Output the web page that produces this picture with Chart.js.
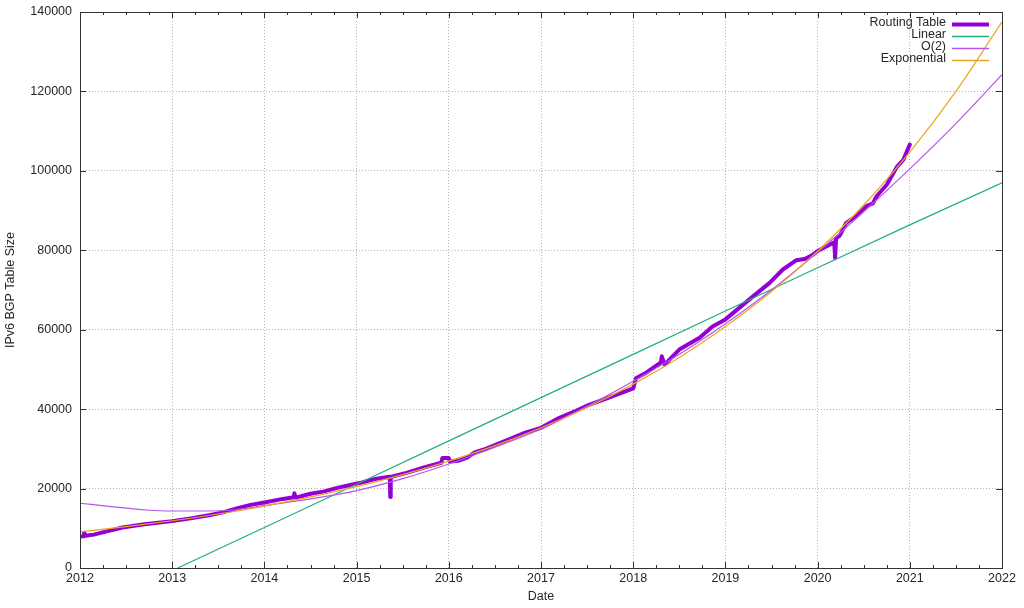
<!DOCTYPE html>
<html>
<head>
<meta charset="utf-8">
<title>IPv6 BGP Table Size</title>
<script src="https://cdn.jsdelivr.net/npm/chart.js@4.4.1/dist/chart.umd.min.js"></script>
<style>
  html, body { margin: 0; padding: 0; background: #fff; }
  #wrap { width: 1024px; height: 608px; }
</style>
</head>
<body>
<div id="wrap"><canvas id="bgpChart" width="1024" height="608"></canvas></div>
<script>
// Routing table size (decimal year, prefixes)
const routingDates = [
  2012.00, 2012.04, 2012.045, 2012.06, 2012.15, 2012.30, 2012.46, 2012.70,
  2013.00, 2013.20, 2013.40, 2013.55, 2013.70, 2013.85,
  2014.00, 2014.20, 2014.32, 2014.325, 2014.34, 2014.50, 2014.65, 2014.78, 2014.93,
  2015.05, 2015.20, 2015.36, 2015.365, 2015.37, 2015.55, 2015.73, 2015.92, 2015.93,
  2016.00, 2016.01, 2016.10, 2016.20, 2016.28, 2016.40, 2016.62, 2016.83,
  2017.00, 2017.20, 2017.38, 2017.52, 2017.70, 2017.93,
  2018.00, 2018.03, 2018.15, 2018.30, 2018.31, 2018.34, 2018.50, 2018.72, 2018.86,
  2019.00, 2019.15, 2019.30, 2019.48, 2019.62, 2019.77, 2019.86, 2019.95,
  2020.00, 2020.13, 2020.18, 2020.19, 2020.20, 2020.24, 2020.31, 2020.42,
  2020.53, 2020.60, 2020.64, 2020.75, 2020.86, 2020.93, 2021.00
];
const routingSizes = [
  7900, 8000, 8900, 8100, 8400, 9300, 10200, 11000,
  11800, 12500, 13300, 14000, 15000, 15900,
  16500, 17400, 17800, 18800, 17700, 18700, 19300, 20100, 20900,
  21500, 22400, 23000, 17900, 22900, 24000, 25300, 26500, 27700,
  27700, 26800, 27000, 27800, 29100, 30000, 32100, 34100,
  35300, 37800, 39600, 41100, 42600, 44600,
  45200, 47800, 49300, 51800, 53300, 51200, 55000, 58000, 60800,
  62600, 65500, 68400, 71800, 75100, 77500, 77800, 78900,
  79800, 81400, 82000, 78000, 83000, 83700, 86900, 88600,
  91100, 91800, 93600, 96500, 101000, 102800, 106600
];

// Linear fit
const linearDates = [2013.06, 2014, 2015, 2016, 2017, 2018, 2019, 2020, 2021, 2022];
const linearSizes = [0, 10200, 21100, 32000, 42900, 53800, 64700, 75600, 86400, 97000];

// O(2) fit
const quadDates = [
  2012.0, 2012.36, 2012.72, 2013.0, 2013.4, 2013.67, 2014.0, 2014.5, 2015.0, 2015.5,
  2016.0, 2016.5, 2017.0, 2017.5, 2018.0, 2018.5, 2019.0, 2019.5, 2020.0, 2020.5,
  2021.0, 2021.5, 2022.0
];
const quadSizes = [
  16300, 15400, 14600, 14350, 14350, 14600, 15700, 17400, 19500, 22500,
  26200, 30400, 35000, 40700, 47000, 53800, 61500, 70000, 79500, 89700,
  100500, 111900, 124200
];

// Exponential fit
const expDates = [
  2012.0, 2012.5, 2013.0, 2013.5, 2014.0, 2014.5, 2015.0, 2015.5, 2016.0, 2016.5,
  2017.0, 2017.5, 2018.0, 2018.5, 2019.0, 2019.5, 2020.0, 2020.5, 2021.0, 2021.5, 2022.0
];
const expSizes = [
  9100, 10400, 11900, 13600, 15600, 17900, 20500, 23500, 26900, 30800,
  35300, 40400, 46300, 53000, 60800, 69600, 79800, 91400, 104700, 120000, 137500
];

const xTicks = [2012, 2013, 2014, 2015, 2016, 2017, 2018, 2019, 2020, 2021, 2022];
const yTicks = [0, 20000, 40000, 60000, 80000, 100000, 120000, 140000];

const FONT = 'Liberation Sans, Arial, Helvetica, sans-serif';
const TEXT = '#262626';
const COLORS = ['#9400d3', '#1fae84', '#b455ee', '#eba520'];
const WIDTHS = [4, 1.2, 1.2, 1.2];

function toPoints(xs, ys) {
  return xs.map((x, i) => ({ x: x, y: ys[i] }));
}

// gnuplot style frame: box, inward ticks on all sides, quarter year minor ticks
const framePlugin = {
  id: 'frame',
  afterDatasetsDraw(chart) {
    const { ctx, chartArea: a, scales: { x, y } } = chart;
    ctx.save();
    ctx.strokeStyle = '#333';
    ctx.lineWidth = 1;
    ctx.beginPath();
    xTicks.forEach((v, i) => {
      const px = Math.round(x.getPixelForValue(v)) + 0.5;
      ctx.moveTo(px, a.bottom); ctx.lineTo(px, a.bottom - 6);
      ctx.moveTo(px, a.top); ctx.lineTo(px, a.top + 6);
      if (i < xTicks.length - 1) {
        for (let q = 1; q < 4; q++) {
          const mx = Math.round(x.getPixelForValue(v + q / 4)) + 0.5;
          ctx.moveTo(mx, a.bottom); ctx.lineTo(mx, a.bottom - 3);
          ctx.moveTo(mx, a.top); ctx.lineTo(mx, a.top + 3);
        }
      }
    });
    yTicks.forEach(v => {
      const py = Math.round(y.getPixelForValue(v)) + 0.5;
      ctx.moveTo(a.left, py); ctx.lineTo(a.left + 6, py);
      ctx.moveTo(a.right, py); ctx.lineTo(a.right - 6, py);
    });
    ctx.stroke();
    ctx.strokeRect(Math.round(a.left) + 0.5, Math.round(a.top) + 0.5,
      Math.round(a.right - a.left), Math.round(a.bottom - a.top));
    ctx.restore();
  },
  afterDraw(chart) {
    // key in the top right corner, text right aligned before the sample line
    const { ctx, chartArea: a } = chart;
    ctx.save();
    ctx.font = '12.5px ' + FONT;
    ctx.textAlign = 'right';
    ctx.textBaseline = 'middle';
    chart.data.datasets.forEach((ds, i) => {
      const ly = Math.round(a.top + 12 + i * 12) + 0.5;
      ctx.fillStyle = TEXT;
      ctx.fillText(ds.label, a.right - 56, ly - 1.5);
      ctx.strokeStyle = COLORS[i];
      ctx.lineWidth = i === 0 ? 4 : 1.5;
      ctx.beginPath();
      ctx.moveTo(a.right - 50, ly);
      ctx.lineTo(a.right - 13, ly);
      ctx.stroke();
    });
    ctx.restore();
  }
};

const bgpChart = new Chart(document.getElementById('bgpChart'), {
  type: 'line',
  data: {
    datasets: [{
      label: 'Routing Table',
      data: toPoints(routingDates, routingSizes),
      borderColor: COLORS[0],
      borderWidth: WIDTHS[0],
      borderJoinStyle: 'round',
      borderCapStyle: 'round',
      order: 3
    }, {
      label: 'Linear',
      data: toPoints(linearDates, linearSizes),
      borderColor: COLORS[1],
      borderWidth: WIDTHS[1],
      order: 2
    }, {
      label: 'O(2)',
      data: toPoints(quadDates, quadSizes),
      borderColor: COLORS[2],
      borderWidth: WIDTHS[2],
      cubicInterpolationMode: 'monotone',
      order: 1
    }, {
      label: 'Exponential',
      data: toPoints(expDates, expSizes),
      borderColor: COLORS[3],
      borderWidth: WIDTHS[3],
      cubicInterpolationMode: 'monotone',
      order: 0
    }]
  },
  options: {
    responsive: false,
    animation: false,
    events: [],
    layout: { padding: { top: 12, right: 22, left: 0, bottom: 0 } },
    elements: { point: { radius: 0 } },
    plugins: {
      legend: { display: false },
      tooltip: { enabled: false }
    },
    scales: {
      x: {
        type: 'linear',
        min: 2012,
        max: 2022,
        afterFit(scale) {
          scale.height = 40;
          scale.paddingLeft = 0;
          scale.paddingRight = 0;
        },
        afterBuildTicks(scale) { scale.ticks = xTicks.map(v => ({ value: v })); },
        ticks: {
          padding: 3,
          color: TEXT,
          font: { family: FONT, size: 12.5 },
          maxRotation: 0,
          autoSkip: false,
          callback: v => String(v)
        },
        grid: { color: '#b4b4b4', drawTicks: false },
        border: { display: false, dash: [1, 2] },
        title: {
          display: true,
          text: 'Date',
          color: TEXT,
          font: { family: FONT, size: 12.5 },
          padding: { top: 0, bottom: 4 }
        }
      },
      y: {
        min: 0,
        max: 140000,
        afterFit(scale) {
          scale.width = 80;
          scale.paddingTop = 0;
          scale.paddingBottom = 0;
        },
        afterBuildTicks(scale) { scale.ticks = yTicks.map(v => ({ value: v })); },
        ticks: {
          padding: 8,
          color: TEXT,
          font: { family: FONT, size: 12.5 },
          callback: v => String(v)
        },
        grid: { color: '#b4b4b4', drawTicks: false },
        border: { display: false, dash: [1, 2] },
        title: {
          display: true,
          text: 'IPv6 BGP Table Size',
          color: TEXT,
          font: { family: FONT, size: 12.5 },
          padding: { top: 3, bottom: 0 }
        }
      }
    }
  },
  plugins: [framePlugin]
});
</script>
</body>
</html>
